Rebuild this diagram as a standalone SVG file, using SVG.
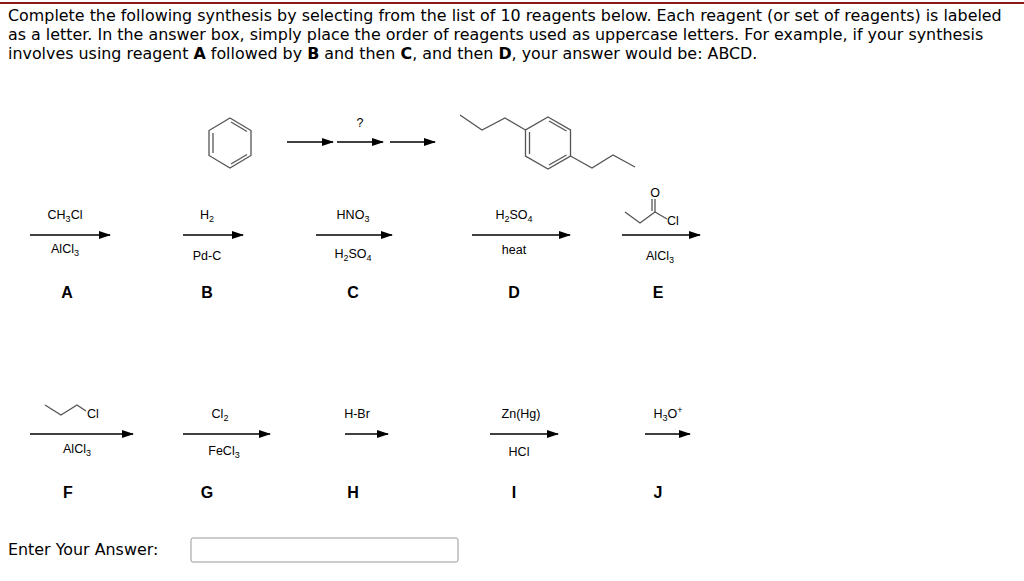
<svg xmlns="http://www.w3.org/2000/svg" width="1024" height="581" viewBox="0 0 1024 581">
<defs><marker id="ah" markerWidth="12" markerHeight="8" refX="11" refY="4" orient="auto" markerUnits="userSpaceOnUse"><path d="M0,0 L12,4 L0,8 Z" fill="#000"/></marker></defs>
<style>
.h{font-family:"DejaVu Sans",Verdana,sans-serif;font-size:15.9px;fill:#000}
.r{font-family:"Liberation Sans",Arial,sans-serif;font-size:12.5px;fill:#000;text-anchor:middle}
.l{font-family:"Liberation Sans",Arial,sans-serif;font-size:16px;font-weight:bold;fill:#000;text-anchor:middle}
.b{stroke:#555;stroke-width:1.3;fill:none}
.a{stroke:#000;stroke-width:1.3;marker-end:url(#ah)}
</style>
<rect width="1024" height="581" fill="#fff"/>
<line x1="0" y1="3" x2="1024" y2="3" stroke="#8b1a1a" stroke-width="2"/>
<text class="h" x="8" y="21">Complete the following synthesis by selecting from the list of 10 reagents below. Each reagent (or set of reagents) is labeled</text>
<text class="h" x="8" y="40">as a letter. In the answer box, simply place the order of reagents used as uppercase letters. For example, if your synthesis</text>
<text class="h" x="8" y="59">involves using reagent <tspan font-weight="bold">A</tspan> followed by <tspan font-weight="bold">B</tspan> and then <tspan font-weight="bold">C</tspan>, and then <tspan font-weight="bold">D</tspan>, your answer would be: ABCD.</text>
<g id="benzene" class="b">
<polygon points="230,118 251,130.5 251,155.5 230,168 209,155.5 209,130.5"/>
<line x1="231" y1="122" x2="247" y2="131.5"/><line x1="247" y1="154.5" x2="231" y2="164"/><line x1="213" y1="133" x2="213" y2="153"/>
</g>
<g id="product" class="b">
<polygon points="548,117 570.5,130 570.5,156 548,169 525.5,156 525.5,130"/>
<line x1="549" y1="121" x2="566.5" y2="131"/><line x1="566.5" y1="155" x2="549" y2="165"/><line x1="529.5" y1="132" x2="529.5" y2="154"/>
<polyline points="460,115 482,130 505,118 525.5,130"/>
<polyline points="570.5,156 592,168 613,155 635,167"/>
</g>
<g id="connectors">
<line class="a" x1="287" y1="142" x2="333" y2="142"/>
<line class="a" x1="337" y1="142" x2="383" y2="142"/>
<line class="a" x1="390" y1="142" x2="435" y2="142"/>
<line class="a" x1="30" y1="235" x2="110" y2="235"/>
<line class="a" x1="183" y1="235" x2="243" y2="235"/>
<line class="a" x1="316" y1="235" x2="392" y2="235"/>
<line class="a" x1="472" y1="235" x2="570" y2="235"/>
<line class="a" x1="622" y1="235" x2="700" y2="235"/>
<line class="a" x1="30" y1="434" x2="133" y2="434"/>
<line class="a" x1="183" y1="434" x2="270" y2="434"/>
<line class="a" x1="345" y1="434" x2="388" y2="434"/>
<line class="a" x1="490" y1="434" x2="558" y2="434"/>
<line class="a" x1="645" y1="434" x2="690" y2="434"/>
</g>
<text class="r" x="360" y="127" font-size="15">?</text>
<g id="A"><text class="r" x="65" y="219">CH<tspan font-size="9" dy="3">3</tspan><tspan dy="-3">Cl</tspan></text><text class="r" x="65" y="253">AlCl<tspan font-size="9" dy="3">3</tspan></text><text class="l" x="67" y="298">A</text></g>
<g id="B"><text class="r" x="207" y="219">H<tspan font-size="9" dy="3">2</tspan></text><text class="r" x="207" y="260">Pd-C</text><text class="l" x="207" y="298">B</text></g>
<g id="C"><text class="r" x="353" y="219">HNO<tspan font-size="9" dy="3">3</tspan></text><text class="r" x="353" y="258">H<tspan font-size="9" dy="3">2</tspan><tspan dy="-3">SO</tspan><tspan font-size="9" dy="3">4</tspan></text><text class="l" x="353" y="298">C</text></g>
<g id="D"><text class="r" x="514" y="219">H<tspan font-size="9" dy="3">2</tspan><tspan dy="-3">SO</tspan><tspan font-size="9" dy="3">4</tspan></text><text class="r" x="514" y="254">heat</text><text class="l" x="514" y="298">D</text></g>
<g id="E"><polyline class="b" points="625,212 640,223 655,212 667,219"/><line class="b" x1="655" y1="212" x2="655" y2="199"/><line class="b" x1="652" y1="211" x2="652" y2="199"/><text class="r" x="655" y="197" font-size="9">O</text><text class="r" x="673" y="225" font-size="10">Cl</text><text class="r" x="660" y="260">AlCl<tspan font-size="9" dy="3">3</tspan></text><text class="l" x="658" y="298">E</text></g>
<g id="F"><polyline class="b" points="45,405 61,415 77,405 86,411"/><text class="r" x="93" y="418" font-size="10">Cl</text><text class="r" x="77" y="453">AlCl<tspan font-size="9" dy="3">3</tspan></text><text class="l" x="68" y="498">F</text></g>
<g id="G"><text class="r" x="220" y="418">Cl<tspan font-size="9" dy="3">2</tspan></text><text class="r" x="224" y="455">FeCl<tspan font-size="9" dy="3">3</tspan></text><text class="l" x="207" y="498">G</text></g>
<g id="H"><text class="r" x="357" y="418">H-Br</text><text class="l" x="353" y="498">H</text></g>
<g id="I"><text class="r" x="521" y="418">Zn(Hg)</text><text class="r" x="519" y="456">HCl</text><text class="l" x="514" y="498">I</text></g>
<g id="J"><text class="r" x="668" y="418">H<tspan font-size="9" dy="3">3</tspan><tspan dy="-3">O</tspan><tspan font-size="9" dy="-5">+</tspan></text><text class="l" x="658" y="498">J</text></g>
<g id="answer"><text class="h" x="8" y="555">Enter Your Answer:</text><rect x="191" y="538" width="267" height="24" rx="2" fill="#fff" stroke="#999"/></g>
</svg>
